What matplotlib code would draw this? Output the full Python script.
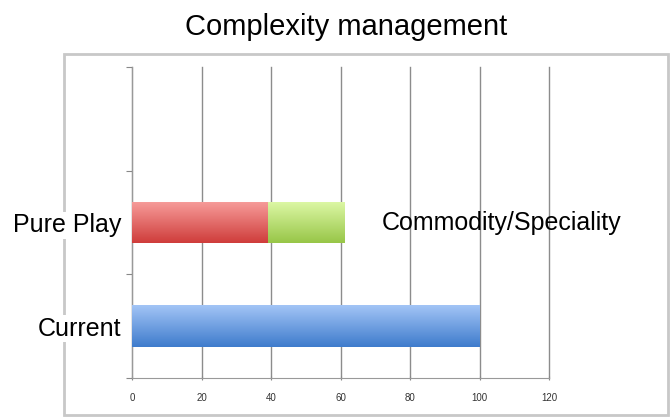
import matplotlib.pyplot as plt
import matplotlib.patches as mpatches
from matplotlib.colors import LinearSegmentedColormap
import numpy as np

plt.rcParams['font.family'] = ['Liberation Sans', 'DejaVu Sans']

categories = ["Current", "Pure Play", ""]
current = [100, 0, 0]
pure_play = [0, 39, 0]
commodity = [0, 22, 0]
xticks = [0, 20, 40, 60, 80, 100, 120]

W, H = 671, 417
fig = plt.figure(figsize=(W / 100, H / 100), dpi=100)
fig.patches.append(mpatches.Rectangle((64 / W, 1 - 415 / H), (668 - 64) / W, (415 - 54) / H,
                                      transform=fig.transFigure, fill=False,
                                      edgecolor="#c8c8c8", linewidth=2, zorder=-5))
ax = fig.add_axes([132 / W, 1 - 378 / H, (549 - 132) / W, (378 - 67) / H])

fig.text(346 / W, 1 - 27 / H, "Complexity management", ha="center", va="center", fontsize=21)

y = np.arange(len(categories))
h = 0.4


def grad_bar(left, width, yc, top, bottom):
    for l, w, c in zip(left, width, yc):
        if w <= 0:
            continue
        rect = ax.barh(c, w, left=l, height=h, color=bottom, zorder=3)[0]
        cmap = LinearSegmentedColormap.from_list("g", [bottom, top])
        im = ax.imshow(np.linspace(0, 1, 64).reshape(-1, 1), cmap=cmap, aspect="auto",
                       extent=(l, l + w, c - h / 2, c + h / 2), origin="lower", zorder=4)
        im.set_clip_path(rect)


grad_bar([0, 0, 0], current, y, "#a2c4f6", "#3f7ccc")
grad_bar([0, 0, 0], pure_play, y, "#f79d9b", "#cf3d3b")
grad_bar(pure_play, commodity, y, "#ddf8a6", "#98c648")

ax.text(72, 1, "Commodity/Speciality", ha="left", va="center", fontsize=18, zorder=5)

ax.set_xlim(0, 120)
ax.set_ylim(-0.5, 2.5)
ax.set_xticks(xticks)
ax.set_xticklabels([str(t) for t in xticks], fontsize=7, color="#333333")
ax.tick_params(axis="x", length=3, pad=9, color="#888888", direction="inout")
ax.set_yticks([-0.5, 0.5, 1.5, 2.5])
ax.set_yticklabels([])
ax.tick_params(axis="y", which="major", length=4, color="#888888")
ax.set_yticks(y, minor=True)
ax.set_yticklabels(categories, minor=True, fontsize=18)
ax.tick_params(axis="y", which="minor", length=0, pad=8)
for lab in ax.get_yticklabels(minor=True):
    lab.set_bbox(dict(facecolor="white", edgecolor="none", pad=1))

ax.grid(axis="x", color="#8c8c8c", linewidth=1)
for gl in ax.get_xgridlines():
    gl.set_clip_on(False)
ax.set_axisbelow(True)
for s in ["top", "right"]:
    ax.spines[s].set_visible(False)
for s in ["left", "bottom"]:
    ax.spines[s].set_color("#999999")

fig.savefig("out.png", dpi=100)
